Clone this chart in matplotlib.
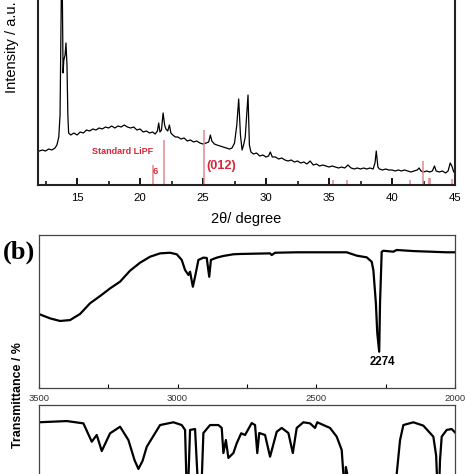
import matplotlib.pyplot as plt
from matplotlib.ticker import MultipleLocator

plt.rcParams['font.family'] = ['Liberation Sans', 'DejaVu Sans']

# (a) XRD pattern, 2theta in degrees, intensity in a.u.
xrd_2theta = [12.0, 12.25, 12.5, 12.75, 13.0, 13.25, 13.4, 13.55, 13.65, 13.72, 13.78, 13.84,
              13.89, 13.95, 14.05, 14.12, 14.2, 14.27, 14.33, 14.5, 14.75, 15.0, 15.25, 15.5,
              15.75, 16.0, 16.25, 16.5, 16.75, 17.0, 17.25, 17.5, 17.75, 18.0, 18.25, 18.5,
              18.75, 19.0, 19.25, 19.5, 19.75, 20.0, 20.25, 20.5, 20.75, 21.0, 21.2, 21.38,
              21.48, 21.58, 21.7, 21.83, 21.95, 22.05, 22.2, 22.33, 22.45, 22.6, 22.8, 23.0,
              23.25, 23.5, 23.75, 24.0, 24.25, 24.5, 24.75, 25.0, 25.25, 25.45, 25.58, 25.7,
              25.9, 26.1, 26.35, 26.6, 26.85, 27.1, 27.3, 27.5, 27.68, 27.83, 27.97, 28.1,
              28.22, 28.35, 28.57, 28.68, 28.8, 29.0, 29.25, 29.5, 29.75, 30.0, 30.2, 30.34,
              30.5, 30.75, 31.0, 31.25, 31.5, 31.75, 32.0, 32.25, 32.5, 32.75, 33.0, 33.25,
              33.5, 33.75, 34.0, 34.25, 34.5, 34.75, 35.0, 35.25, 35.5, 35.75, 36.0, 36.25,
              36.5, 36.75, 37.0, 37.25, 37.5, 37.75, 38.0, 38.25, 38.5, 38.65, 38.75, 38.88,
              39.0, 39.25, 39.5, 39.75, 40.0, 40.25, 40.5, 40.75, 41.0, 41.25, 41.5, 41.75,
              42.0, 42.15, 42.3, 42.5, 42.75, 43.0, 43.2, 43.37, 43.5, 43.75, 44.0, 44.25,
              44.45, 44.62, 44.75, 44.9, 45.0]
xrd_int = [34, 35, 34, 36, 35, 37, 40, 48, 70, 150, 230, 180,
           112, 125, 130, 142, 120, 70, 52, 50, 52, 50, 53, 52,
           55, 54, 56, 55, 57, 56, 58, 57, 59, 57, 59, 58,
           60, 58, 57, 58, 55, 56, 53, 54, 52, 53, 51, 54,
           62, 53, 55, 72, 60, 56, 54, 60, 52, 50, 48, 48,
           46, 47, 44, 45, 43, 44, 42, 41, 42, 43, 50, 44,
           41, 40, 39, 38, 37, 36, 37, 42, 60, 86, 50, 35,
           40, 48, 90, 40, 33, 31, 32, 29, 30, 28, 29, 33,
           28, 28, 26, 27, 25, 24, 25, 23, 24, 22, 23, 21,
           24, 20, 21, 19, 20, 19, 18, 19, 18, 17, 18, 17,
           20, 17, 16, 17, 16, 17, 16, 17, 16, 22, 34, 18,
           16, 15, 16, 15, 15, 14, 15, 14, 15, 14, 13, 14,
           15, 17, 14, 13, 14, 13, 14, 19, 14, 13, 14, 12,
           14, 22, 19, 13, 14]

# standard LiPF6 reference lines
std_2theta = [21.0, 21.93, 25.1, 35.3, 36.45, 41.45, 42.45, 42.9, 43.0, 44.8]
std_int = [20, 45, 55, 5, 5, 5, 24, 7, 7, 6]

# (b) FT-IR, wavenumber in cm-1, transmittance in %
ir_b_wn = [3500, 3459, 3423, 3387, 3351, 3315, 3279, 3243, 3207, 3171, 3135, 3099,
           3063, 3027, 3003, 2985, 2973, 2961, 2955, 2945, 2937, 2925, 2907, 2895,
           2886, 2880, 2859, 2835, 2799, 2775, 2667, 2661, 2649, 2571, 2391, 2355,
           2319, 2301, 2295, 2286, 2281, 2274, 2271, 2265, 2259, 2223, 2211, 2151,
           2031, 2000]
ir_b_t = [48.4, 45.5, 43.8, 44.4, 48.4, 55.4, 60.1, 65.1, 69.5, 76.7, 81.9, 85.8,
          88.0, 88.4, 87.4, 83.7, 77.1, 73.9, 76.0, 66.2, 72.7, 83.7, 85.2, 85.0,
          72.7, 83.7, 85.2, 86.3, 87.4, 87.6, 88.0, 86.9, 88.4, 88.7, 88.7, 86.5,
          85.4, 82.5, 77.0, 55.6, 36.0, 23.7, 55.6, 89.0, 89.7, 89.1, 90.2, 89.5,
          88.7, 88.7]

# lower spectrum (only the top part is visible)
ir_c_wn = [3500, 3399, 3339, 3309, 3291, 3273, 3243, 3207, 3177, 3155, 3141, 3126,
           3111, 3063, 3015, 2985, 2973, 2965, 2955, 2937, 2919, 2907, 2883, 2853,
           2841, 2835, 2826, 2817, 2799, 2787, 2771, 2757, 2733, 2721, 2713, 2706,
           2685, 2667, 2643, 2625, 2601, 2585, 2571, 2547, 2523, 2505, 2497, 2475,
           2451, 2427, 2409, 2403, 2397, 2394, 2385, 2372, 2235, 2211, 2199, 2187,
           2151, 2115, 2079, 2069, 2061, 2055, 2049, 2031, 2013, 2000]
ir_c_t = [88.7, 89.5, 88.0, 76.0, 80.4, 69.9, 81.5, 85.8, 77.1, 64.0, 58.2, 63.5,
          72.7, 86.9, 88.7, 86.9, 83.7, 30.0, 83.7, 84.3, 20.0, 81.7, 86.9, 86.9,
          85.0, 68.6, 77.1, 65.4, 68.6, 75.0, 81.5, 80.4, 88.2, 86.9, 68.6, 81.7,
          80.4, 66.2, 82.5, 85.0, 81.7, 68.6, 85.0, 88.7, 88.0, 85.0, 88.7, 86.9,
          85.0, 79.3, 70.6, 54.9, 44.0, 59.5, 51.0, 30.0, 30.0, 54.9, 77.0, 86.9,
          88.7, 86.5, 79.3, 67.0, 30.0, 64.0, 79.3, 83.7, 84.3, 81.9]

W = H = 474


def box(left, top, right, bottom):
    # pixel box -> figure fraction rect
    return [left / W, 1 - bottom / H, (right - left) / W, (bottom - top) / H]


red_text = '#d42838'
red_line = '#e48890'

fig = plt.figure(figsize=(4.74, 4.74), dpi=100)

# ---- XRD panel ----
ax1 = fig.add_axes(box(38, -5, 455, 185))
ax1.plot(xrd_2theta, xrd_int, color='black', lw=0.9)
ax1.vlines(std_2theta, 0, std_int, color=red_line, lw=1.1)
ax1.set_xlim(11.9, 45)
ax1.set_ylim(0, 190)
ax1.set_yticks([])
ax1.xaxis.set_major_locator(MultipleLocator(5))
ax1.xaxis.set_minor_locator(MultipleLocator(2.5))
ax1.tick_params(axis='x', which='major', direction='in', length=5, width=1.3,
                labelsize=8.2, pad=6)
ax1.tick_params(axis='x', which='minor', direction='in', length=3, width=1.1)
for s in ax1.spines.values():
    s.set_linewidth(1.5)
    s.set_color('#222222')
ax1.set_xlabel('2θ/ degree', fontsize=10.5, labelpad=6)
ax1.text(16.2, 33, 'Standard LiPF', color=red_text, fontsize=6.5, fontweight='bold',
         ha='left', va='center')
ax1.text(21.2, 14, '6', color=red_text, fontsize=6.8, fontweight='bold',
         ha='center', va='center')
ax1.text(26.45, 19, '(012)', color=red_text, fontsize=9.2, fontweight='bold',
         ha='center', va='center')
fig.text(12 / W, 1 - 93 / H, 'Intensity / a.u.', rotation=90, fontsize=10.5,
         ha='center', va='bottom')

# ---- FT-IR panel (b) ----
ax2 = fig.add_axes(box(38.7, 235, 455.3, 388))
ax2.plot(ir_b_wn, ir_b_t, color='black', lw=1.6)
ax2.set_xlim(3500, 2000)
ax2.set_ylim(0, 100)
ax2.set_yticks([])
ax2.xaxis.set_major_locator(MultipleLocator(500))
ax2.xaxis.set_minor_locator(MultipleLocator(250))
ax2.tick_params(axis='x', which='both', direction='in', length=3, width=0.8,
                labelsize=6.8, labelcolor='#333333', pad=4)
for s in ax2.spines.values():
    s.set_linewidth(0.9)
    s.set_color('#444444')
ax2.text(2264, 17.2, '2274', fontsize=8.3, fontweight='bold', ha='center', va='center')
fig.text(19 / W, 1 - 252 / H, '(b)', family='Liberation Serif', fontsize=19,
         fontweight='bold', ha='center', va='center')
fig.text(18 / W, 1 - 395 / H, 'Transmittance / %', rotation=90, fontsize=8.9,
         fontweight='bold', ha='center', va='center')

# ---- lower FT-IR panel ----
ax3 = fig.add_axes(box(38.7, 405, 455.3, 558))
ax3.plot(ir_c_wn, ir_c_t, color='black', lw=1.6)
ax3.set_xlim(3500, 2000)
ax3.set_ylim(0, 100)
ax3.set_xticks([])
ax3.set_yticks([])
for s in ax3.spines.values():
    s.set_linewidth(0.9)
    s.set_color('#444444')

fig.savefig('out.png', dpi=100)
